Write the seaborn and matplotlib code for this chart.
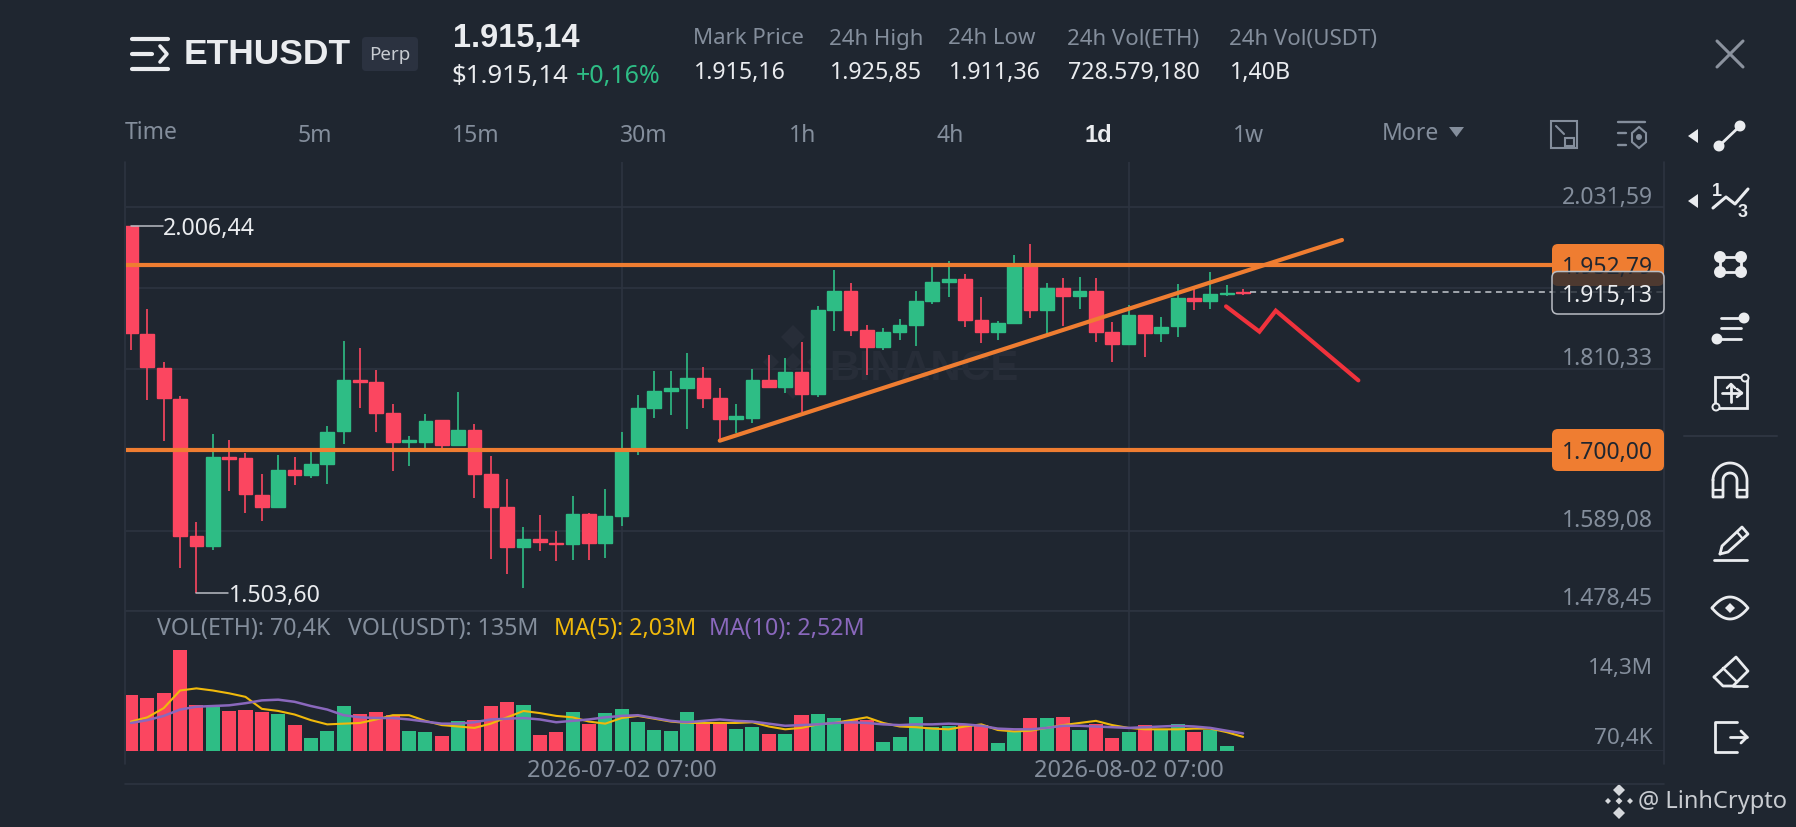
import numpy as np
import pandas as pd
import seaborn as sns
import matplotlib.pyplot as plt
from matplotlib.patches import FancyBboxPatch, Polygon, Circle, Rectangle

# --- data ---
opens = [2006.44, 1858.6, 1811.6, 1769.2, 1582.0, 1568.3, 1689.3, 1688.8, 1638.2, 1620.8, 1672.0, 1665.6, 1680.2,
         1724.9, 1794.7, 1792.0, 1749.5, 1709.8, 1709.8, 1740.0, 1706.2, 1727.2, 1666.0, 1621.3, 1567.0, 1577.0,
         1572.4, 1571.1, 1611.7, 1571.5, 1608.5, 1700.7, 1756.8, 1779.7, 1784.7, 1798.4, 1770.1, 1742.2, 1743.6,
         1795.6, 1786.0, 1805.7, 1775.6, 1891.0, 1916.6, 1863.2, 1840.8, 1861.4, 1871.0, 1903.3, 1929.8, 1933.0,
         1876.9, 1860.4, 1873.7, 1951.7, 1891.5, 1920.7, 1909.7, 1916.6, 1860.9, 1844.0, 1883.7, 1859.5, 1868.7,
         1907.0, 1903.3, 1912.9, 1915.6]
closes = [1859.1, 1812.5, 1770.1, 1582.0, 1568.3, 1689.3, 1687.0, 1638.6, 1620.8, 1672.4, 1665.6, 1679.7, 1724.4,
          1794.7, 1792.0, 1749.5, 1709.8, 1712.6, 1739.5, 1706.2, 1727.2, 1666.0, 1621.3, 1567.0, 1577.5, 1573.8,
          1570.2, 1611.7, 1571.5, 1608.5, 1700.7, 1756.8, 1779.7, 1784.7, 1798.4, 1770.1, 1742.2, 1745.4, 1795.6,
          1786.0, 1805.7, 1775.6, 1891.0, 1916.6, 1863.2, 1840.8, 1861.4, 1871.0, 1903.3, 1928.9, 1933.0, 1876.9,
          1860.4, 1873.2, 1951.7, 1891.5, 1920.7, 1909.7, 1916.6, 1861.4, 1844.0, 1883.7, 1859.5, 1868.2, 1907.0,
          1903.3, 1912.5, 1914.8, 1914.2]
highs = [2006.44, 1891.9, 1819.4, 1773.7, 1600.3, 1721.2, 1713.5, 1695.2, 1666.9, 1692.5, 1690.2, 1697.0, 1731.7,
         1848.1, 1839.0, 1808.9, 1761.9, 1718.0, 1748.6, 1740.9, 1778.3, 1735.4, 1691.6, 1660.1, 1594.4, 1609.9,
         1588.0, 1636.8, 1613.1, 1645.5, 1724.4, 1775.1, 1807.5, 1807.5, 1832.6, 1812.5, 1783.8, 1761.9, 1810.7,
         1829.4, 1825.8, 1847.2, 1896.0, 1946.2, 1928.4, 1870.0, 1866.4, 1878.2, 1917.5, 1952.6, 1958.1, 1940.3,
         1908.8, 1876.0, 1966.3, 1981.8, 1928.4, 1934.4, 1936.2, 1935.3, 1874.1, 1897.9, 1884.6, 1881.4, 1927.1,
         1919.8, 1942.6, 1925.2, 1919.3]
lows = [1836.7, 1767.3, 1712.1, 1537.8, 1503.6, 1562.9, 1643.7, 1612.6, 1601.7, 1620.4, 1651.0, 1661.0, 1652.8,
        1708.0, 1756.8, 1724.0, 1670.1, 1677.9, 1702.1, 1700.7, 1705.3, 1633.2, 1550.6, 1529.6, 1510.8, 1561.5,
        1546.9, 1548.7, 1548.7, 1551.9, 1595.7, 1692.9, 1742.7, 1746.8, 1728.1, 1756.4, 1712.1, 1722.1, 1736.3,
        1784.2, 1777.8, 1750.9, 1771.9, 1862.7, 1855.0, 1802.0, 1835.8, 1850.4, 1841.7, 1898.8, 1908.8, 1867.7,
        1845.8, 1849.9, 1872.3, 1880.5, 1858.2, 1869.6, 1892.8, 1846.7, 1820.3, 1842.6, 1826.7, 1846.7, 1854.1,
        1891.0, 1892.8, 1910.6, 1911.6]
volume = [7.9, 7.5, 8.3, 14.3, 6.5, 6.2, 5.7, 5.8, 5.5, 5.2, 3.7, 1.9, 2.9, 6.4, 5.3, 5.5, 5.1, 2.9, 2.7, 2.2, 4.3,
          4.4, 6.4, 6.9, 6.6, 2.3, 2.7, 5.5, 3.8, 5.4, 6.0, 4.2, 3.0, 2.8, 5.5, 4.0, 4.1, 3.1, 3.4, 2.4, 2.5, 5.1,
          5.3, 4.7, 4.4, 4.4, 1.3, 2.0, 4.9, 3.4, 3.6, 3.7, 3.7, 1.2, 2.7, 4.7, 4.7, 4.8, 3.0, 3.9, 1.9, 2.7, 3.7,
          3.2, 3.8, 2.7, 3.0, 0.78, 0.0704]
ma5 = [4.2, 4.8, 6.1, 8.6, 8.9, 8.6, 8.2, 7.7, 6.0, 5.7, 5.2, 4.4, 3.8, 3.9, 4.0, 4.5, 5.1, 5.1, 4.3, 3.7, 3.5, 3.3,
       3.9, 4.8, 5.7, 5.4, 5.0, 4.8, 4.2, 3.9, 4.7, 5.0, 4.6, 4.2, 4.0, 4.0, 4.0, 4.0, 4.1, 3.5, 3.1, 3.3, 3.8, 4.0,
       4.4, 4.8, 4.0, 3.5, 3.4, 3.2, 3.1, 3.5, 3.8, 3.0, 2.8, 2.9, 3.3, 3.7, 4.0, 4.3, 3.7, 3.3, 3.1, 3.1, 3.1, 3.2,
       3.2, 2.7, 2.03]
ma10 = [4.0, 4.4, 5.0, 5.9, 6.3, 6.4, 6.5, 6.8, 7.2, 7.3, 7.0, 6.4, 5.9, 5.1, 4.8, 4.7, 4.7, 4.5, 4.2, 3.9, 3.9, 4.1,
        4.5, 4.6, 4.7, 4.5, 4.1, 4.3, 4.5, 4.8, 5.0, 5.1, 4.7, 4.3, 4.1, 4.3, 4.5, 4.3, 4.2, 3.9, 3.6, 3.7, 3.8, 4.0,
        4.1, 4.0, 3.8, 3.7, 3.8, 3.8, 3.9, 3.8, 3.6, 3.2, 3.1, 3.1, 3.3, 3.6, 3.6, 3.5, 3.4, 3.3, 3.4, 3.5, 3.6, 3.5,
        3.3, 2.9, 2.52]

price_ticks = [2031.59, 1920.96, 1810.33, 1699.70, 1589.08, 1478.45]
price_labels = ['2.031,59', '', '1.810,33', '', '1.589,08', '1.478,45']
date_idx = [30, 61]
date_labels = ['2026-07-02 07:00', '2026-08-02 07:00']
level_lines = [1952.79, 1700.00]
trend_x = [36, 74.05]
trend_y = [1712.1, 1986.9]
arrow_x = [66.96, 69, 70, 75.05]
arrow_y = [1896.0, 1861.4, 1890.1, 1794.7]
last_price = 1915.13

# --- colours ---
BG = '#1f2630'
GRID = '#2d3440'
UP = '#2ebd85'
DOWN = '#fb4660'
ORANGE = '#ef7d31'
GRAY = '#848e9c'
WHITE = '#eaecef'
MARK = '#272d38'

sns.set_theme(style='dark', rc={'figure.facecolor': BG, 'axes.facecolor': BG})
plt.rcParams['font.family'] = ['Noto Sans', 'DejaVu Sans']
BOLD = ['Liberation Sans', 'DejaVu Sans']

W, H = 1796, 828
fig = plt.figure(figsize=(W / 100, H / 100), dpi=100, facecolor=BG)


def box(left, top, right, bottom):
    return [left / W, 1 - bottom / H, (right - left) / W, (bottom - top) / H]


idx = np.arange(len(opens))
xlim = (-0.306, 93.74)

# price panel
ax = fig.add_axes(box(126, 163, 1664, 612.3))
ax.set_xlim(xlim)
ax.set_ylim(1478.45, 2093.7)
ax.set_yticks(price_ticks)
ax.set_xticks(date_idx)
ax.grid(True, color=GRID, lw=1.2)
ax.tick_params(left=False, bottom=False, labelleft=False, labelbottom=False)
ax.set_axisbelow(True)
for s in ax.spines.values():
    s.set_visible(False)

candles = pd.DataFrame({'o': opens, 'c': closes, 'h': highs, 'l': lows})
colors = [UP if c > o else DOWN for o, c in zip(opens, closes)]
ax.vlines(idx, candles['l'], candles['h'], colors=colors, lw=1.2, zorder=3)
ax.bar(idx, (candles['c'] - candles['o']).abs(), bottom=candles[['o', 'c']].min(axis=1),
       width=0.84, color=colors, edgecolor=colors, lw=1.0, zorder=3)

# watermark sits under the drawing
ax.text(42.7, 1812, 'BINANCE', color=MARK, fontsize=30, fontweight='bold', ha='left', va='center', zorder=2,
        family=BOLD)

for lvl in level_lines:
    ax.axhline(lvl, color=ORANGE, lw=3, zorder=5)
ax.plot(trend_x, trend_y, color=ORANGE, lw=3, solid_capstyle='round', zorder=5)
ax.plot(arrow_x, arrow_y, color='#f0323c', lw=3, solid_capstyle='round', solid_joinstyle='miter', zorder=5)
ax.plot([idx[-1] + 0.4, xlim[1]], [last_price, last_price], color='#c4c8cf', lw=1.1, dashes=(4, 3), zorder=4)

# volume panel
vax = fig.add_axes(box(126, 612.3, 1664, 751.7))
vol = pd.DataFrame({'i': idx, 'v': volume, 'side': ['up' if c == UP else 'down' for c in colors],
                    'ma5': ma5, 'ma10': ma10})
sns.barplot(data=vol, x='i', y='v', hue='side', palette={'up': UP, 'down': DOWN}, native_scale=True, dodge=False,
            width=0.86, saturation=1, linewidth=0, legend=False, ax=vax, zorder=3)
sns.lineplot(data=vol, x='i', y='ma5', color='#f0b90b', lw=1.5, ax=vax, zorder=4)
sns.lineplot(data=vol, x='i', y='ma10', color='#8a68bd', lw=1.8, ax=vax, zorder=5)
vax.set_xlim(xlim)
vax.set_ylim(0.0704, 19.82)
vax.set_xticks(date_idx)
vax.set_yticks([0.0704])
vax.grid(True, color=GRID, lw=1.2)
vax.set_axisbelow(True)
vax.set_xlabel('')
vax.set_ylabel('')
vax.tick_params(left=False, bottom=False, labelleft=False, labelbottom=False)
for s in vax.spines.values():
    s.set_visible(False)

# --- overlay in pixel coordinates for the app chrome ---
ui = fig.add_axes([0, 0, 1, 1], facecolor='none', zorder=10)
ui.set_xlim(0, W)
ui.set_ylim(H, 0)
ui.axis('off')


def txt(x, y, s, color=WHITE, size=16.5, ha='left', weight='normal', **kw):
    # va center sits a little high because of the descender box
    return ui.text(x, y + 2, s, color=color, fontsize=size, ha=ha, va='center', fontweight=weight, **kw)


def seg(pts, color=WHITE, lw=1.7, **kw):
    xs, ys = zip(*pts)
    ui.plot(xs, ys, color=color, lw=lw, solid_capstyle='round', solid_joinstyle='round', **kw)


def dot(x, y, r=3.5, color=WHITE, fill=True):
    ui.add_patch(Circle((x, y), r, facecolor=color if fill else BG, edgecolor=color, lw=1.4, zorder=12))


def tri(pts, color=WHITE):
    ui.add_patch(Polygon(pts, closed=True, facecolor=color, edgecolor='none'))


def rbox(left, top, right, bottom, r=6, **kw):
    ui.add_patch(FancyBboxPatch((left + r, top + r), right - left - 2 * r, bottom - top - 2 * r,
                                boxstyle=f'round,pad={r},rounding_size={r}', **kw))


# frame lines
seg([(125, 163), (125, 765)], GRID, 1.2)
seg([(1664, 163), (1664, 765)], GRID, 1.2)
seg([(126, 612.3), (1664, 612.3)], GRID, 1.2)
seg([(125, 785), (1664, 785)], GRID, 1.2)
seg([(1684, 437), (1777, 437)], GRID, 1.5)

# header
for y, x1 in [(40, 168), (70, 168)]:
    seg([(132, y), (x1, y)], WHITE, 3.0)
seg([(132, 55), (152, 55)], WHITE, 3.0)
seg([(160, 47), (167, 55), (160, 63)], WHITE, 2.6)
txt(184, 53, 'ETHUSDT', size=25.5, weight='bold', family=BOLD)
rbox(362, 38, 418, 72, r=4, facecolor='#2b3240', edgecolor='none')
txt(390, 53, 'Perp', color='#c8ccd2', size=13.5, ha='center')
txt(453, 36, '1.915,14', size=23.5, weight='bold', family=BOLD)
txt(451, 75, '$1.915,14', size=18.5, weight='medium')
txt(576, 75, '+0,16%', color=UP, size=18, weight='medium')
heads = ['Mark Price', '24h High', '24h Low', '24h Vol(ETH)', '24h Vol(USDT)']
vals = ['1.915,16', '1.925,85', '1.911,36', '728.579,180', '1,40B']
for x, a, b in zip([693, 829, 948, 1067, 1229], heads, vals):
    txt(x, 37, a, color=GRAY, size=16)
    txt(x + 1, 71, b, size=16.7)
seg([(1717, 42), (1743, 68)], '#8b929e', 2.2)
seg([(1743, 42), (1717, 68)], '#8b929e', 2.2)

# interval tabs
txt(125, 131, 'Time', color=GRAY, size=16.5)
for x, s in zip([315, 476, 644, 803, 950, 1248], ['5m', '15m', '30m', '1h', '4h', '1w']):
    txt(x, 134, s, color=GRAY, size=16.5, ha='center')
txt(1098, 134, '1d', size=17, ha='center', weight='bold', family=BOLD)
txt(1382, 132, 'More', color=GRAY, size=16.5)
tri([(1449, 128), (1464, 128), (1456.5, 138)], GRAY)
ui.add_patch(Rectangle((1551, 122), 26, 27, fill=False, edgecolor=GRAY, lw=1.5))
ui.add_patch(Rectangle((1565, 139), 9, 8, facecolor=BG, edgecolor=GRAY, lw=1.5))
seg([(1556, 127), (1564, 135)], GRAY, 1.5)
seg([(1618, 123), (1645, 123)], GRAY, 1.7)
seg([(1618, 134), (1626, 134)], GRAY, 1.7)
seg([(1618, 146), (1626, 146)], GRAY, 1.7)
ui.add_patch(Polygon([(1632, 134), (1639, 128), (1646, 134), (1646, 143), (1639, 149), (1632, 143)], closed=True,
                     fill=False, edgecolor=GRAY, lw=1.5))
dot(1639, 138, 2, GRAY)

# price labels
price_y = {'2.031,59': 196, '1.810,33': 357.5, '1.589,08': 519, '1.478,45': 597.5}
for t, s in zip(price_ticks, price_labels):
    if s:
        txt(1653, price_y[s], s, color=GRAY, ha='right')
txt(1653, 667, '14,3M', color=GRAY, size=16.2, ha='right')
txt(1653, 737, '70,4K', color=GRAY, size=16.2, ha='right')
for i, s in zip(date_idx, date_labels):
    txt(131 + i * 16.354, 769, s, color=GRAY, size=17, ha='center')

rbox(1552, 245, 1664, 287, facecolor=ORANGE, edgecolor='none', zorder=6)
txt(1653, 266, '1.952,79', color='#1f2630', ha='right', zorder=7)
rbox(1552, 430, 1664, 472, facecolor=ORANGE, edgecolor='none', zorder=6)
txt(1653, 451, '1.700,00', color='#1f2630', ha='right', zorder=7)
rbox(1552, 272.5, 1664, 315, facecolor=(0.122, 0.149, 0.188, 0.78), edgecolor='#b9bdc4', lw=1.1, zorder=8)
txt(1653, 294, '1.915,13', ha='right', zorder=9)

# high / low callouts
seg([(131, 227), (163, 227)], '#b9bdc4', 1.1)
txt(163, 227, '2.006,44', size=16.7)
seg([(196.3, 594), (228, 594)], '#b9bdc4', 1.1)
txt(229, 594, '1.503,60', size=16.7)

# volume legend
txt(157, 627, 'VOL(ETH): 70,4K', color=GRAY, size=16.7)
txt(348, 627, 'VOL(USDT): 135M', color=GRAY, size=16.7)
txt(554, 627, 'MA(5): 2,03M', color='#f0b90b', size=16.7)
txt(709, 627, 'MA(10): 2,52M', color='#8a68bd', size=16.7)

# binance mark goes on the price axes so the candles stay on top
for cx, cy, r in [(793, 338, 12), (771, 363, 8), (815, 363, 8), (793, 363, 9), (793, 388, 12)]:
    ax.add_patch(Polygon([(cx, cy - r), (cx + r, cy), (cx, cy + r), (cx - r, cy)], closed=True, facecolor=MARK,
                         edgecolor='none', zorder=2, transform=ui.transData))

# right toolbar
tri([(1698, 130), (1698, 144), (1688, 137)])
seg([(1719, 147), (1740, 127)], WHITE, 2.0)
dot(1719, 147, 4.5)
dot(1740, 127, 4.5)
tri([(1698, 195), (1698, 209), (1688, 202)])
seg([(1713, 209), (1726, 198), (1735, 205), (1748, 190)], WHITE, 2.2)
txt(1717, 189, '1', size=13, ha='center', weight='bold', family=BOLD)
txt(1743, 211, '3', size=13, ha='center', weight='bold', family=BOLD)
seg([(1720, 258), (1741, 258), (1741, 273), (1720, 273), (1720, 258)], WHITE, 2.0)
for p in [(1720, 258), (1741, 258), (1720, 273), (1741, 273)]:
    dot(*p, 5)
seg([(1721, 319), (1744, 319)], WHITE, 2.0)
seg([(1721, 329), (1741, 329)], WHITE, 2.0)
seg([(1717, 340), (1741, 340)], WHITE, 2.0)
dot(1744, 319, 4.5)
dot(1717, 340, 4.5)
ui.add_patch(Rectangle((1715, 378), 32, 31, fill=False, edgecolor=WHITE, lw=2.0))
dot(1745, 379, 3.5, fill=False)
dot(1716, 408, 3.5, fill=False)
seg([(1731, 386), (1731, 403)], WHITE, 2.0)
seg([(1722, 394), (1741, 394)], WHITE, 2.0)
seg([(1727, 389), (1731, 385), (1735, 389)], WHITE, 1.8)
seg([(1737, 390), (1742, 394), (1737, 398)], WHITE, 1.8)
# magnet
t = np.linspace(np.pi, 0, 40)
outer = list(zip(1730 + 17 * np.cos(t), 481 - 17 * np.sin(t)))
inner = list(zip(1730 + 7 * np.cos(t), 481 - 7 * np.sin(t)))
seg(outer + [(1747, 498), (1737, 498), (1737, 481)] + inner[::-1] + [(1723, 498), (1713, 498), (1713, 481)], WHITE, 2.0)
seg([(1713, 491), (1723, 491)], WHITE, 1.6)
seg([(1737, 491), (1747, 491)], WHITE, 1.6)
# pencil
seg([(1714, 561), (1747, 561)], WHITE, 2.0)
seg([(1720, 555), (1722, 547), (1742, 528), (1748, 535), (1728, 553), (1720, 555)], WHITE, 2.0)
seg([(1737, 533), (1743, 540)], WHITE, 1.6)
# eye
t = np.linspace(-1, 1, 30)
seg(list(zip(1730 + 18 * t, 609 - 11 * (1 - t ** 2))) + list(zip(1730 - 18 * t, 609 + 11 * (1 - t ** 2))), WHITE, 2.0)
tri([(1730, 604), (1735, 609), (1730, 614), (1725, 609)])
# eraser
seg([(1714, 678), (1736, 658), (1748, 672), (1733, 687), (1723, 687), (1714, 678)], WHITE, 2.0)
seg([(1723, 669), (1737, 683)], WHITE, 1.8)
seg([(1733, 687), (1747, 687)], WHITE, 2.0)
# exit
seg([(1737, 723), (1715, 723), (1715, 753), (1737, 753)], WHITE, 2.0)
seg([(1730, 738), (1747, 738)], WHITE, 2.0)
seg([(1741, 732), (1747, 738), (1741, 744)], WHITE, 2.0)

# watermark bottom right
for cx, cy, r in [(1619, 791, 6), (1608, 802, 3), (1630, 802, 3), (1619, 802, 3.5), (1619, 814, 6)]:
    ui.add_patch(Polygon([(cx, cy - r), (cx + r, cy), (cx, cy + r), (cx - r, cy)], closed=True,
                         facecolor='#d5d8dc', edgecolor='none'))
txt(1638, 800, '@ LinhCrypto', color='#c9ccd1', size=17)

fig.savefig('out.png', dpi=100, facecolor=BG)
